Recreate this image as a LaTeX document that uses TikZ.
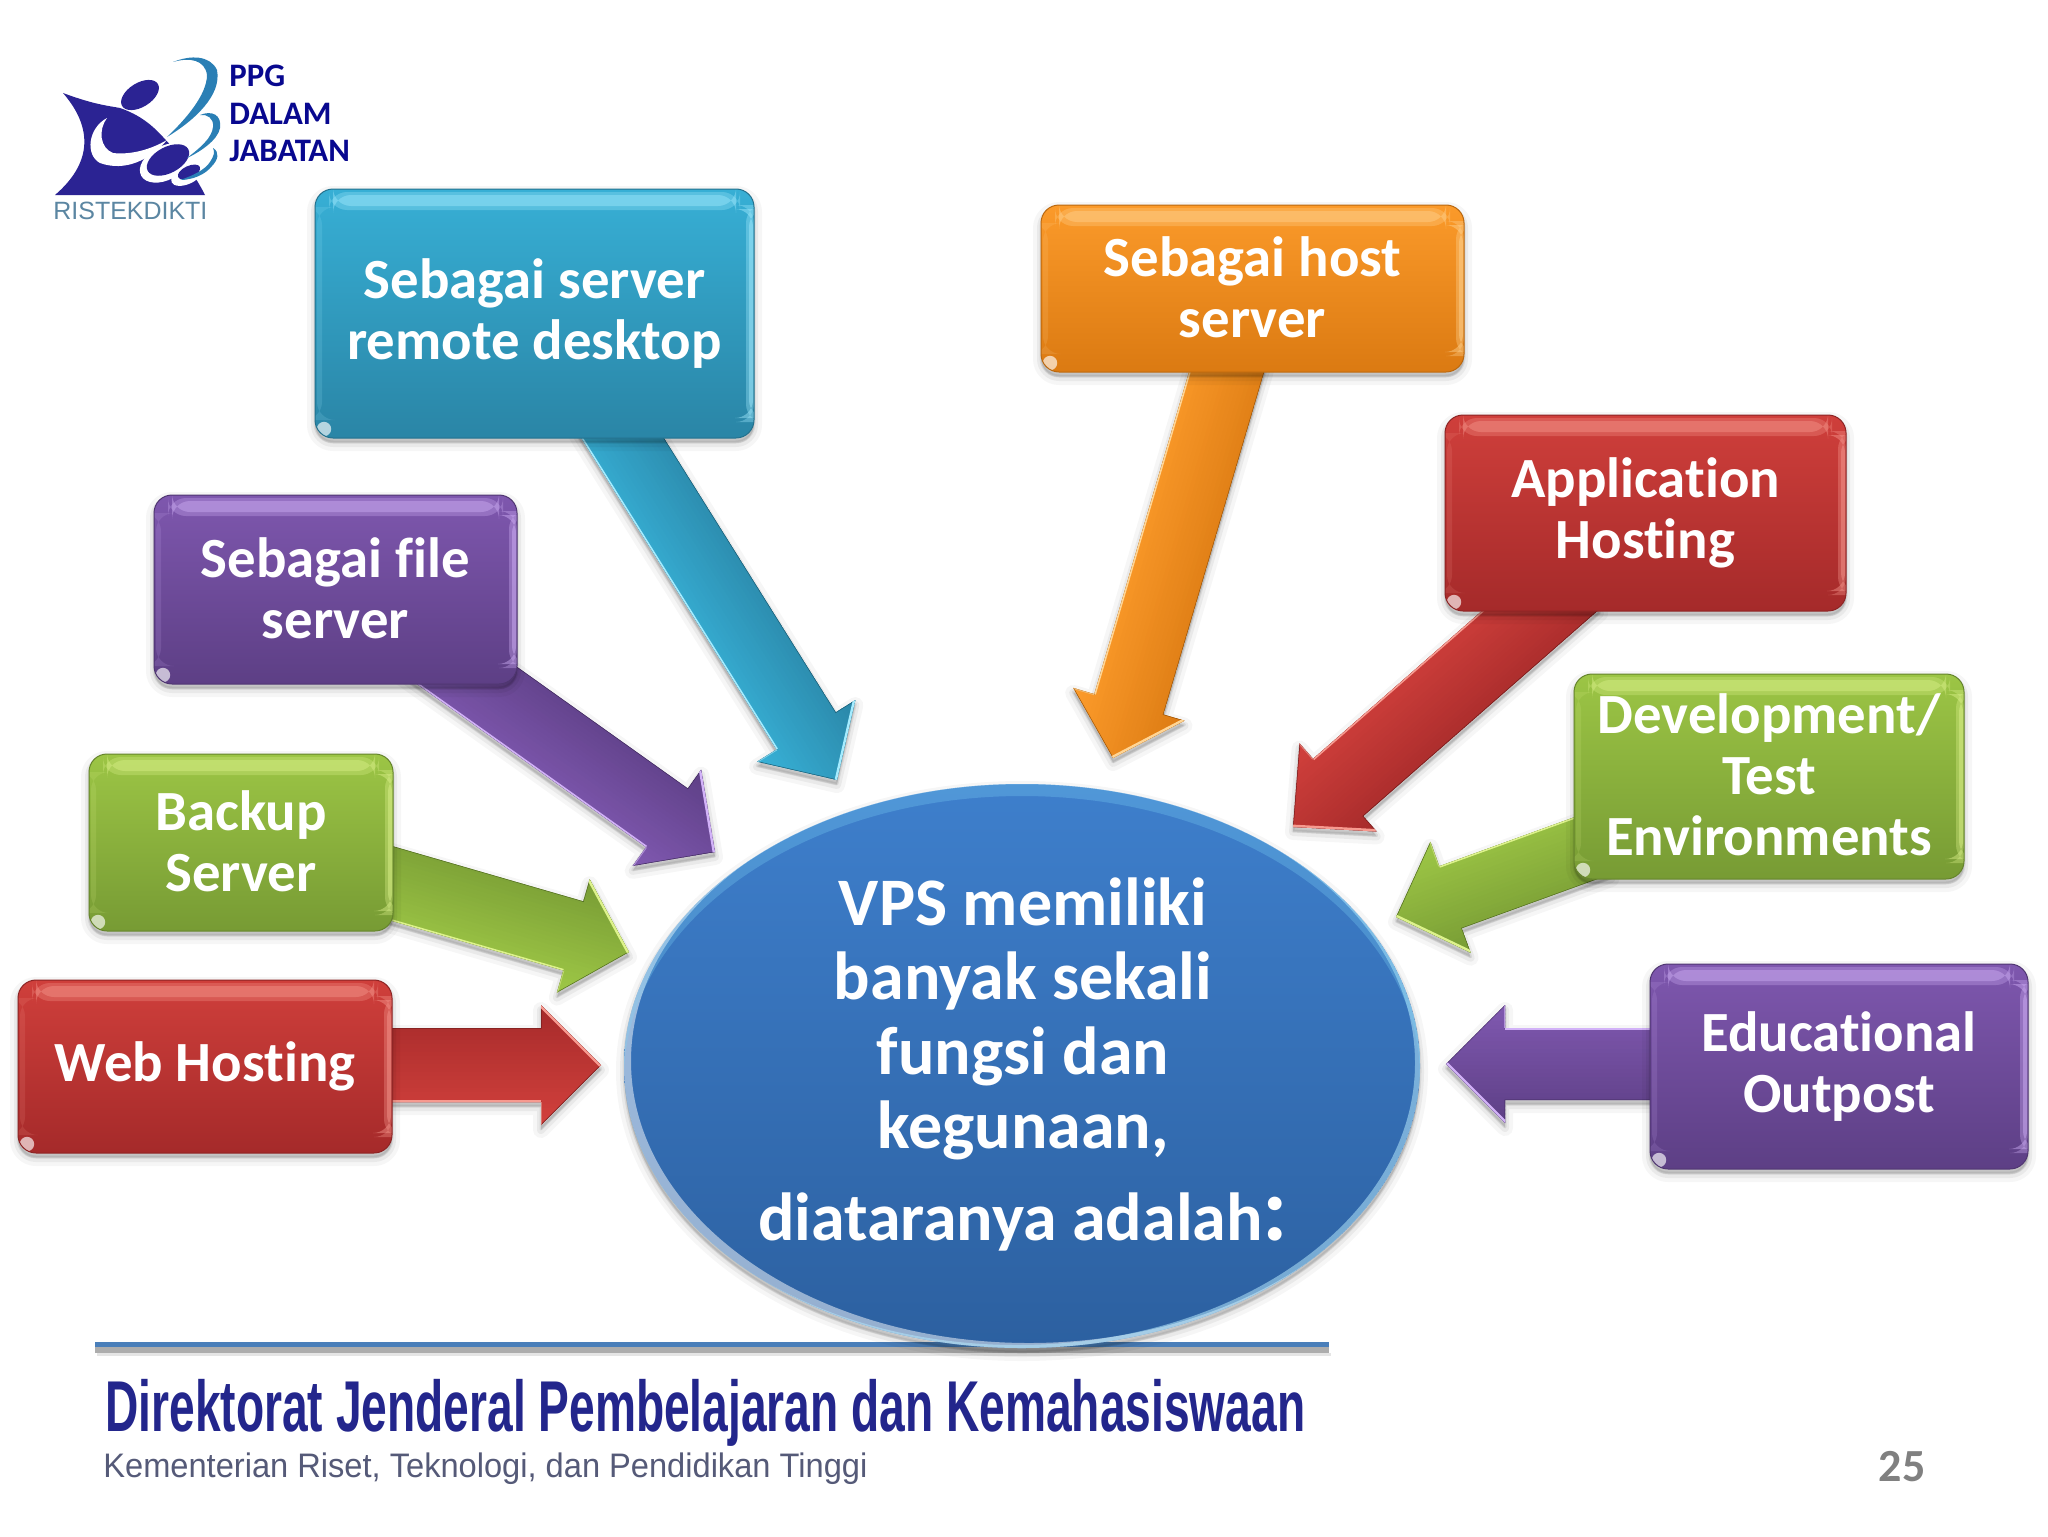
\documentclass[tikz,border=0pt]{standalone}
\usepackage{fontspec}
\usepackage{graphicx}
\setmainfont[Ligatures=NoCommon]{Carlito}
\newfontfamily\libsans{Liberation Sans}
\usetikzlibrary{calc,shapes.geometric}
\definecolor{cyanT}{HTML}{37AFD5}\definecolor{cyanB}{HTML}{2A85A6}\definecolor{cyanL}{HTML}{A5ECFF}
\definecolor{purT}{HTML}{7E57AE}\definecolor{purB}{HTML}{5D3F85}\definecolor{purL}{HTML}{D2B2F8}
\definecolor{greT}{HTML}{9CC545}\definecolor{greB}{HTML}{779B34}\definecolor{greL}{HTML}{DDF28C}
\definecolor{redT}{HTML}{CF3F3B}\definecolor{redB}{HTML}{A52A2A}\definecolor{redL}{HTML}{F79A90}
\definecolor{oraT}{HTML}{FB9A2A}\definecolor{oraB}{HTML}{DB7A12}\definecolor{oraL}{HTML}{FFD595}
\definecolor{logoblue}{HTML}{2B2393}\definecolor{logocyan}{HTML}{2A7FB5}
\definecolor{logotxt}{HTML}{5B86A2}\definecolor{ppgblue}{HTML}{08088F}
\definecolor{dirblue}{HTML}{23268C}\definecolor{kemgrey}{HTML}{555A78}
\definecolor{barblue}{HTML}{4A7FBA}
\definecolor{vpsT}{HTML}{3E7FCC}\definecolor{vpsB}{HTML}{2C60A0}
\tikzset{
  softshadow/.style={
    preaction={draw=black,draw opacity=.035,fill=black,fill opacity=.035,line width=8pt,line join=round,transform canvas={yshift=-2.5pt}},
    preaction={draw=black,draw opacity=.05,fill=black,fill opacity=.05,line width=4pt,line join=round,transform canvas={yshift=-2.5pt}},
    preaction={draw=black,draw opacity=.07,fill=black,fill opacity=.07,line width=1.5pt,line join=round,transform canvas={yshift=-2pt}}},
  bevelbox/.style n args={3}{
    softshadow, rectangle, rounded corners=9pt, inner sep=0pt, outer sep=0pt, align=center,
    top color=#1, bottom color=#2, draw=#2!85!black, line width=.5pt, text=white,
    font=\fontsize{28.4}{30.5}\selectfont\bfseries,
    path picture={
      \fill[#3,opacity=.3] ($(path picture bounding box.north west)+(14,3)$) rectangle ($(path picture bounding box.north east)+(-14,21)$);
      \fill[#3,opacity=.4] ($(path picture bounding box.north west)+(18,6)$) rectangle ($(path picture bounding box.north east)+(-18,17)$);
      \fill[#3,opacity=.35] ($(path picture bounding box.north east)+(-8,16)$) rectangle ($(path picture bounding box.south east)+(0,-16)$);
      \fill[#3,opacity=.45] ($(path picture bounding box.north east)+(-5,20)$) rectangle ($(path picture bounding box.south east)+(-1,-20)$);
      \fill[#3,opacity=.15] ($(path picture bounding box.north west)+(2,18)$) rectangle ($(path picture bounding box.south west)+(7,-18)$);
      \fill[white,opacity=.65] ($(path picture bounding box.south west)+(9,-9)$) circle[radius=3.6pt];
    }},
  vpsdisc/.style={
    ellipse, softshadow, inner sep=0pt, outer sep=0pt, minimum width=398pt, minimum height=282pt,
    top color=vpsT, bottom color=vpsB,
    path picture={
      \fill[white,opacity=.5,even odd rule] (path picture bounding box.center) ellipse [x radius=398,y radius=282] ($(path picture bounding box.center)+(7,-5)$) ellipse [x radius=398,y radius=282];
      \fill[cyan!30!white,opacity=.55,even odd rule] (path picture bounding box.center) ellipse [x radius=398,y radius=282] ($(path picture bounding box.center)+(-5,-3)$) ellipse [x radius=398,y radius=282];
      \fill[cyan!50!white,opacity=.28,even odd rule] (path picture bounding box.center) ellipse [x radius=398,y radius=282] ($(path picture bounding box.center)+(0,12)$) ellipse [x radius=398,y radius=282];
    }}
}
% S, T, shaft width, head width, head length (px), bright, dark, light
\newcommand{\blockarrow}[8]{%
  \coordinate (B) at ($(#2)!#5*0.5pt!(#1)$);
  \coordinate (a1) at ($(#1)!#3*0.25pt!90:(#2)$);
  \coordinate (b1) at ($(#1)!#3*0.25pt!-90:(#2)$);
  \coordinate (a2) at ($(B)!#3*0.25pt!90:(#2)$);
  \coordinate (b2) at ($(B)!#3*0.25pt!-90:(#2)$);
  \coordinate (a3) at ($(B)!#4*0.25pt!90:(#2)$);
  \coordinate (b3) at ($(B)!#4*0.25pt!-90:(#2)$);
  \path[softshadow] (a1)--(a2)--(a3)--(#2)--(b3)--(b2)--(b1)--cycle;
  \begin{scope}
    \clip (a1)--(a2)--(a3)--(#2)--(b3)--(b2)--(b1)--cycle;
    \foreach \d [evaluate=\d as \p using {int(min(100,max(0,55-\d*0.9)))}] in {-64,-60,...,64}
      \draw[#6!\p!#7,line width=2.6pt] ($(#1)!\d*0.5pt!90:(#2)$) -- ($(#2)!\d*0.5pt!-90:(#1)$);
    \draw[#7!70!black,line width=.5pt] (a1)--(a2)--(a3)--(#2)--(b3)--(b2)--(b1);
    \draw[#8,line width=1.6pt] (b1)--(b2);
    \draw[#8,line width=2.4pt] (a3)--(#2);
    \draw[#8,line width=1pt,opacity=.7] (b3)--(b2);
  \end{scope}
}
\begin{document}
\begin{tikzpicture}[x=0.5pt,y=-0.5pt]
\useasboundingbox (0,0) rectangle (2048,1536);
\fill[white] (0,0) rectangle (2048,1536);

% logo
\fill[logoblue] (63,93) .. controls (95,105) and (110,106) .. (120,108) .. controls (140,115) and (152,125) .. (163,137) .. controls (180,155) and (195,175) .. (205,195) -- (55,195) .. controls (90,165) and (95,130) .. (63,93) -- cycle;
\fill[logoblue,rotate around={32:(140,95)}] (140,95) ellipse [x radius=21,y radius=12];
\fill[white] (107,118) .. controls (88,128) and (85,155) .. (100,163) .. controls (125,172) and (150,160) .. (167,140) .. controls (150,150) and (130,155) .. (113,153) .. controls (100,148) and (98,130) .. (107,118) -- cycle;
\fill[logocyan] (173,62) .. controls (190,55) and (210,55) .. (217,70) .. controls (222,95) and (195,120) .. (167,137) .. controls (185,120) and (207,95) .. (207,75) .. controls (205,60) and (190,57) .. (173,62) -- cycle;
\fill[white,rotate around={28:(165,163)}] (165,163) ellipse [x radius=27,y radius=17];
\fill[logoblue,rotate around={28:(168,160)}] (168,160) ellipse [x radius=23,y radius=13];
\fill[white,rotate around={25:(187,175)}] (187,175) ellipse [x radius=17,y radius=9];
\fill[logoblue,rotate around={25:(189,172)}] (189,172) ellipse [x radius=12,y radius=6];
\fill[logocyan] (200,115) .. controls (212,110) and (222,115) .. (220,128) .. controls (218,140) and (200,152) .. (187,158) .. controls (200,148) and (212,138) .. (213,127) .. controls (214,118) and (207,114) .. (200,115) -- cycle;
\fill[logocyan] (213,148) .. controls (220,152) and (218,160) .. (212,166) .. controls (205,175) and (192,180) .. (180,180) .. controls (192,176) and (205,170) .. (210,162) .. controls (214,156) and (215,152) .. (213,148) -- cycle;
\node[anchor=base west,inner sep=0pt,text=logotxt,font=\libsans\fontsize{12.5}{13}\selectfont] (ristek) at (53,219) {\resizebox{77pt}{\height}{RISTEKDIKTI}};
\node[anchor=north west,inner sep=0pt,align=left,text=ppgblue,font=\fontsize{16.4}{18.75}\selectfont\bfseries] (ppg) at (229,65) {PPG\\DALAM\\JABATAN};

% footer
\fill[black!10] (97,1353) rectangle (1331,1356);
\fill[black!32] (95,1347) rectangle (1329,1353);
\fill[barblue] (95,1342) rectangle (1329,1347);
\node[anchor=base west,inner sep=0pt,text=dirblue,font=\libsans\bfseries\fontsize{36}{40}\selectfont] (dir) at (105,1431) {\resizebox{600pt}{\height}{Direktorat Jenderal Pembelajaran dan Kemahasiswaan}};
\node[anchor=base west,inner sep=0pt,text=kemgrey,font=\libsans\fontsize{17}{20}\selectfont] (kem) at (103,1477) {\resizebox{382pt}{\height}{Kementerian Riset, Teknologi, dan Pendidikan Tinggi}};
\node[anchor=base,inner sep=0pt,text=black!50,font=\fontsize{23}{26}\selectfont\bfseries] (page) at (1902,1481) {25};

% arrow ends
\coordinate (cS) at (600,402);  \coordinate (cT) at (837,780);
\coordinate (fS) at (420,642);  \coordinate (fT) at (715,852);
\coordinate (bS) at (380,880);  \coordinate (bT) at (629,952);
\coordinate (wS) at (380,1065); \coordinate (wT) at (601,1065);
\coordinate (oS) at (1236,340); \coordinate (oT) at (1113,758);
\coordinate (rS) at (1575,580); \coordinate (rT) at (1293,827);
\coordinate (gS) at (1600,843); \coordinate (gT) at (1396,917);
\coordinate (eS) at (1665,1064);\coordinate (eT) at (1446,1064);

\blockarrow{cS}{cT}{70}{116}{58}{cyanT}{cyanB}{cyanL}
\blockarrow{fS}{fT}{72}{118}{59}{purT}{purB}{purL}
\blockarrow{bS}{bT}{72}{118}{58}{greT}{greB}{greL}
\blockarrow{wS}{wT}{74}{120}{60}{redT}{redB}{redL}
\blockarrow{oS}{oT}{72}{116}{56}{oraT}{oraB}{oraL}
\blockarrow{rS}{rT}{76}{117}{60}{redT}{redB}{redL}
\blockarrow{gS}{gT}{66}{118}{58}{greT}{greB}{greL}
\blockarrow{eS}{eT}{72}{118}{59}{purT}{purB}{purL}

% centre ellipse
\node[vpsdisc] (vps) at (1022,1066) {};
\node[inner sep=0pt,text=white,align=center,font=\fontsize{34}{37.25}\selectfont\bfseries] (vpstext) at (1023,1064) {VPS memiliki\\banyak sekali\\fungsi dan\\kegunaan,\\[8.5pt]diataranya adalah{\fontsize{46}{44}\selectfont:}};

% boxes
\node[bevelbox={cyanT}{cyanB}{cyanL},minimum width=219.5pt,minimum height=124.5pt] (cyanbox) at (534.5,313.5) {\rule{0pt}{0pt}\raisebox{-.6pt}{Sebagai server}\\\raisebox{-.6pt}{remote desktop}};
\node[bevelbox={purT}{purB}{purL},minimum width=181.5pt,minimum height=94.5pt] (filebox) at (335.5,589.5) {\raisebox{1.3pt}{Sebagai file}\\\raisebox{1.3pt}{server}};
\node[bevelbox={greT}{greB}{greL},minimum width=152pt,minimum height=88.5pt] (backupbox) at (241,842.5) {\raisebox{1.3pt}{Backup}\\\raisebox{1.3pt}{Server}};
\node[bevelbox={redT}{redB}{redL},minimum width=187pt,minimum height=86.5pt] (webbox) at (205,1066.5) {\raisebox{-.6pt}{Web Hosting}};
\node[bevelbox={oraT}{oraB}{oraL},minimum width=211.5pt,minimum height=83.5pt] (hostbox) at (1252.5,288.5) {\raisebox{1.5pt}{Sebagai host}\\\raisebox{1.5pt}{server}};
\node[bevelbox={redT}{redB}{redL},minimum width=200.5pt,minimum height=98pt] (appbox) at (1645.5,513) {\raisebox{-.6pt}{Application}\\\raisebox{-.6pt}{Hosting}};
\node[bevelbox={greT}{greB}{greL},minimum width=195pt,minimum height=102.5pt] (devbox) at (1769,776.5) {\raisebox{1.8pt}{Development/}\\\raisebox{1.8pt}{Test}\\\raisebox{1.8pt}{Environments}};
\node[bevelbox={purT}{purB}{purL},minimum width=189pt,minimum height=102.5pt] (edubox) at (1839,1066.5) {Educational\\Outpost};
\end{tikzpicture}
\end{document}
